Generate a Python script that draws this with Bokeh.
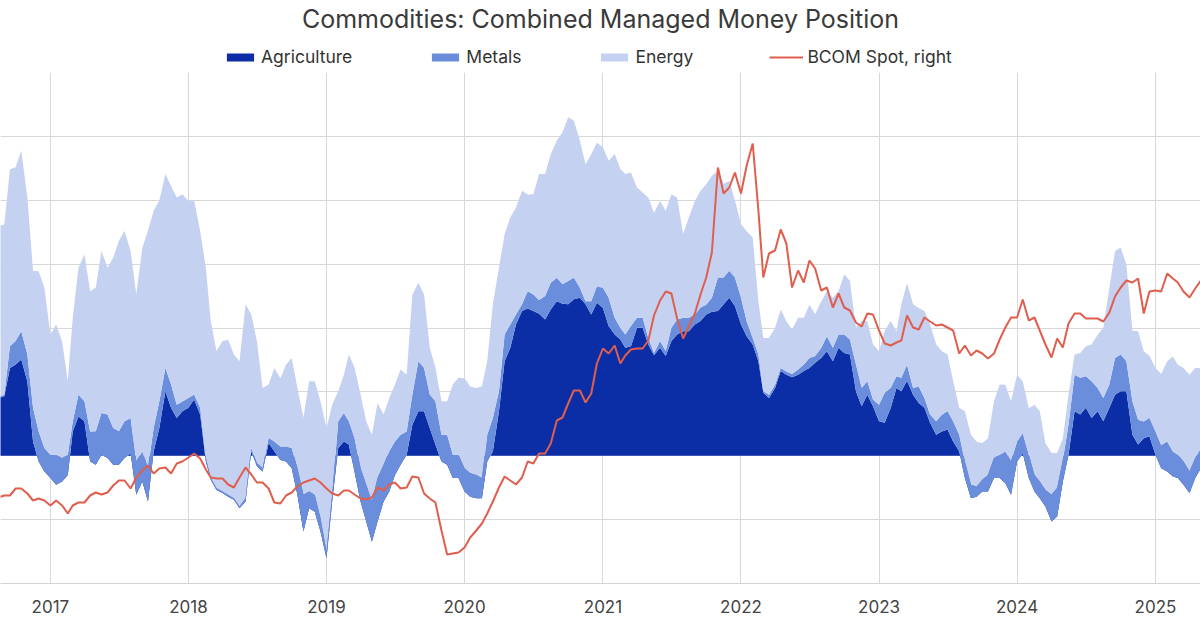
import pandas as pd
import numpy as np
from bokeh.plotting import figure
from bokeh.layouts import column
from bokeh.models import (Range1d, FixedTicker, DatetimeTickFormatter, Legend, LegendItem, Label)
from bokeh.embed import file_html
from bokeh.resources import INLINE

# ---- data ----
months = pd.date_range("2016-08-01", periods=106, freq="MS")

# managed money net positions, thousand contracts (stacked);
# *_1st = first half of the month, *_16th = second half
agriculture_1st = [181, 186, 286, 233, -18, -70, -81, 76, 108, -28,
                   -7, -28, 8, -81, 14, 202, 118, 150, 129, -75,
                   -117, -138, -143, -33, 40, -13, -39, -237, -175, -321,
                   24, 35, -143, -269, -143, -60, 3, 139, 87, -18,
                   -70, -112, -133, -18, 139, 338, 453, 453, 427, 484,
                   474, 495, 442, 463, 380, 338, 401, 348, 338, 359,
                   390, 411, 442, 453, 495, 411, 348, 197, 212, 254,
                   254, 275, 306, 296, 322, 202, 191, 108, 150, 202,
                   191, 150, 66, 82, 14, -133, -112, -70, -86, -18,
                   -70, -133, -206, -81, 139, 150, 139, 150, 202, 66,
                   55, 3, -49, -70, -117, -39]
agriculture_16th = [181, 275, 301, 45, -49, -91, -60, 123, -18, 3,
                    -28, -7, -122, -143, 87, 150, 139, 176, -18, -107,
                    -128, -164, 14, -49, 14, -18, -122, -164, -237, -143,
                    45, -49, -206, -206, -112, -28, 97, 139, 35, -28,
                    -70, -128, -133, 14, 296, 411, 461, 445, 458, 476,
                    490, 474, 479, 406, 364, 343, 401, 315, 312, 380,
                    390, 422, 451, 474, 469, 374, 296, 181, 265, 246,
                    265, 291, 327, 338, 317, 155, 155, 103, 212, 235,
                    165, 103, 76, 45, -70, -128, -112, -70, -122, 8,
                    -112, -159, -190, 3, 129, 118, 108, 191, 202, 35,
                    61, -39, -65, -91, -70, -39]

metals_1st = [5, 5, 73, 84, 94, 73, 73, 31, 63, 105,
              136, 105, 110, 94, 73, 73, 42, 31, 21, 5,
              5, 5, 10, 10, 16, 42, 63, 115, 52, 21,
              84, 73, 105, 126, 115, 105, 73, 157, 105, 84,
              73, 73, 73, 84, 63, 73, 21, 52, 73, 73,
              73, 31, 42, 63, 52, 42, 31, 21, 21, 42,
              42, 31, 31, 105, 84, 84, 21, 5, 10, 10,
              16, 31, 31, 42, 58, 84, 42, 52, 63, 42,
              21, 31, 42, 58, 52, 42, 37, 63, 99, 63,
              73, 52, 84, 68, 115, 99, 73, 73, 115, 105,
              52, 73, 94, 73, 68, 63]
metals_16th = [5, 68, 89, 105, 73, 94, 63, 68, 94, 131,
               115, 115, 105, 105, 84, 73, 31, 16, 10, 5,
               5, 5, 10, 10, 31, 47, 84, 52, 42, 21,
               89, 105, 115, 136, 126, 94, 94, 136, 136, 94,
               73, 73, 63, 105, 84, 31, 54, 43, 84, 61,
               68, 10, 52, 89, 37, 63, 31, 7, 16, 47,
               42, 42, 44, 84, 89, 47, 21, 10, 10, 10,
               21, 21, 47, 42, 47, 58, 21, 94, 37, 50,
               52, 26, 52, 63, 52, 31, 52, 73, 105, 63,
               52, 52, 89, 94, 115, 115, 73, 115, 94, 78,
               58, 73, 78, 73, 63, 63]

energy_1st = [528, 533, 544, 492, 502, 377, 366, 324, 460, 450,
              460, 596, 523, 638, 680, 607, 649, 617, 554, 492,
              471, 450, 607, 382, 167, 214, 282, 241, 356, 387,
              94, 209, 230, 209, 157, 178, 178, 246, 146, 105,
              220, 282, 272, 230, 387, 335, 356, 314, 382, 429,
              513, 460, 460, 439, 513, 502, 408, 439, 439, 418,
              262, 356, 377, 335, 282, 230, 314, 167, 178, 157,
              162, 167, 146, 157, 188, 115, 188, 167, 209, 230,
              262, 272, 241, 178, 84, 157, 115, 178, 209, 209,
              146, 220, 131, 68, 63, 94, 167, 303, 335, 220,
              220, 199, 251, 282, 303, 251]
energy_16th = [533, 554, 565, 429, 502, 408, 230, 397, 439, 507,
               533, 596, 523, 743, 628, 622, 649, 607, 596, 429,
               486, 455, 418, 251, 230, 256, 251, 345, 366, 282,
               120, 220, 199, 235, 167, 204, 314, 230, 105, 105,
               241, 272, 288, 356, 314, 335, 303, 394, 403, 476,
               492, 429, 450, 429, 497, 481, 392, 439, 439, 382,
               314, 366, 382, 293, 241, 282, 167, 178, 183, 139,
               146, 131, 141, 136, 183, 209, 173, 194, 141, 256,
               246, 282, 199, 126, 157, 141, 115, 220, 188, 162,
               220, 146, 110, 94, 78, 115, 220, 335, 303, 277,
               194, 222, 298, 293, 282, 251]

# BCOM spot (right axis), twice a month: 1st and 16th
bcom_spot = [335, 336, 338, 338, 345, 345, 340, 333, 335, 333,
             328, 333, 328, 320, 328, 331, 331, 338, 341, 339,
             341, 348, 353, 353, 345, 356, 363, 368, 360, 365,
             366, 360, 370, 372, 376, 380, 375, 364, 356, 355,
             355, 349, 346, 356, 366, 359, 351, 351, 345, 331,
             330, 338, 341, 347, 351, 353, 355, 351, 345, 340,
             338, 343, 343, 339, 335, 334, 336, 346, 343, 349,
             351, 345, 346, 357, 356, 340, 335, 331, 303, 279,
             280, 281, 286, 296, 303, 310, 320, 332, 346, 357,
             353, 349, 356, 372, 370, 380, 380, 390, 413, 416,
             430, 443, 443, 431, 440, 470, 485, 480, 488, 470,
             478, 484, 485, 485, 493, 518, 533, 542, 540, 515,
             495, 507, 520, 539, 556, 581, 666, 640, 646, 661,
             640, 668, 690, 623, 556, 580, 583, 604, 590, 546,
             563, 551, 573, 565, 543, 546, 526, 540, 526, 523,
             511, 507, 520, 519, 503, 490, 488, 491, 493, 518,
             506, 504, 516, 512, 508, 509, 506, 503, 480, 488,
             478, 483, 480, 475, 480, 494, 506, 516, 516, 534,
             513, 516, 503, 489, 476, 495, 486, 510, 520, 520,
             515, 515, 515, 512, 521, 537, 546, 553, 551, 555,
             520, 542, 543, 542, 560, 555, 551, 542, 536, 545,
             553, 556]

year_labels = [2017, 2018, 2019, 2020, 2021, 2022, 2023, 2024, 2025]

# ---- derived ----
def halves(first, second):
    return np.array([v for pair in zip(first, second) for v in pair], dtype=float)

x = [d + pd.Timedelta(days=k * 15) for d in months for k in (0, 1)]
ag = halves(agriculture_1st, agriculture_16th)
me = halves(metals_1st, metals_16th)
en = halves(energy_1st, energy_16th)
s1 = ag
s2 = s1 + me
s3 = s2 + en

def ms(ts):
    return pd.Timestamp(ts).value / 1e6

year_ticks = [ms(f"{y}-01-01") for y in year_labels]

FONT = "Inter"
C_AG, C_ME, C_EN, C_BC = "#0b2ea6", "#6a8edb", "#c5d1f1", "#df5e4d"

# ---- main chart ----
p = figure(width=1200, height=558, x_axis_type="datetime",
           x_range=Range1d(ms("2016-08-22"), ms("2025-04-30")),
           y_range=Range1d(-400, 1200),
           output_backend="svg", toolbar_location=None,
           min_border_left=0, min_border_right=0, min_border_top=0,
           min_border_bottom=47, background_fill_color="white",
           border_fill_color="white")
p.extra_y_ranges = {"bcom": Range1d(250, 761)}
p.outline_line_color = None
p.yaxis.visible = False

r_ag = p.varea(x=x, y1=np.zeros(len(s1)), y2=s1, fill_color=C_AG)
r_me = p.varea(x=x, y1=s1, y2=s2, fill_color=C_ME)
r_en = p.varea(x=x, y1=s2, y2=s3, fill_color=C_EN)
r_bc = p.line(x=x, y=bcom_spot, y_range_name="bcom", line_color=C_BC, line_width=2)

p.xaxis.ticker = FixedTicker(ticks=year_ticks)
p.xaxis.formatter = DatetimeTickFormatter(years="%Y", months="%Y", days="%Y", hours="%Y")
p.xaxis.major_tick_line_color = None
p.xaxis.minor_tick_line_color = None
p.xaxis.axis_line_color = "#d4d4d4"
p.xaxis.major_label_text_font = FONT
p.xaxis.major_label_text_font_size = "17px"
p.xaxis.major_label_text_color = "#444444"
p.xaxis.major_label_standoff = 10

p.xgrid.ticker = FixedTicker(ticks=year_ticks)
p.ygrid.ticker = FixedTicker(ticks=list(range(-400, 1201, 200)))
p.xgrid.grid_line_color = "#d8d8d8"
p.ygrid.grid_line_color = "#d8d8d8"

# ---- header: title + legend ----
h = figure(width=1200, height=72, x_range=Range1d(0, 1200), y_range=Range1d(0, 72),
           output_backend="svg", toolbar_location=None, min_border=0,
           x_axis_location=None, y_axis_location=None,
           background_fill_color="white", border_fill_color="white")
h.outline_line_color = None
h.grid.visible = False

# legend keys (off-canvas, zero-size)
k_ag = h.varea(x=[-10, -5], y1=[-10, -10], y2=[-10, -10], fill_color=C_AG)
k_me = h.varea(x=[-10, -5], y1=[-10, -10], y2=[-10, -10], fill_color=C_ME)
k_en = h.varea(x=[-10, -5], y1=[-10, -10], y2=[-10, -10], fill_color=C_EN)
k_bc = h.line(x=[-10, -5], y=[-10, -10], line_color=C_BC, line_width=2)

h.add_layout(Label(x=600, y=54, text="Commodities: Combined Managed Money Position",
                   text_align="center", text_baseline="middle", text_font=FONT,
                   text_font_size="25px", text_color="#3a3a3a"))

legend = Legend(items=[LegendItem(label="Agriculture", renderers=[k_ag]),
                       LegendItem(label="Metals", renderers=[k_me]),
                       LegendItem(label="Energy", renderers=[k_en]),
                       LegendItem(label="BCOM Spot, right", renderers=[k_bc])],
                orientation="horizontal", location=(223, 5),
                glyph_width=34, glyph_height=10, label_standoff=4, spacing=76,
                label_text_font=FONT, label_text_font_size="17.5px",
                label_text_color="#333333", border_line_color=None,
                background_fill_alpha=0, padding=0, margin=0)
h.add_layout(legend, "center")

layout = column(h, p, spacing=0)
open("out.html", "w").write(file_html(layout, INLINE))
